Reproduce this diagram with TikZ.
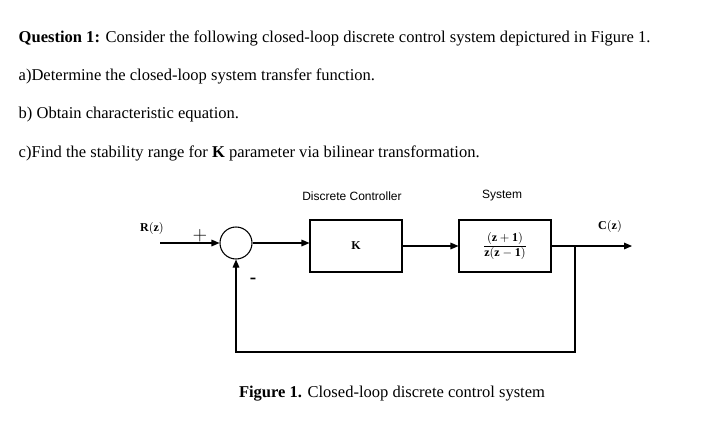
\documentclass[tikz,border=0pt]{standalone}
\usepackage{amsmath}
\usepackage{fontspec}
\setmainfont{Liberation Serif}
\newfontfamily\arialf{Liberation Sans}
\usetikzlibrary{arrows.meta}
\begin{document}
\begin{tikzpicture}[x=0.75pt,y=-0.75pt,
  blk/.style={draw,thick,minimum width=69pt,minimum height=39pt,inner sep=0pt},
  arr/.style={thick,-{Triangle[length=6pt,width=5pt]}},
  q/.style={anchor=base west,font=\fontsize{12.4}{14}\selectfont}]
\useasboundingbox (0,0) rectangle (712,447);
\node[q] (t1) at (14,42) {\textbf{Question 1:} Consider the following closed-loop discrete control system depictured in Figure 1.};
\node[q] (t2) at (14,80) {a)Determine the closed-loop system transfer function.};
\node[q] (t3) at (14,118) {b) Obtain characteristic equation.};
\node[q] (t4) at (14,157) {c)Find the stability range for \textbf{K} parameter via bilinear transformation.};
\node[font=\arialf\fontsize{9}{11}\selectfont] (l1) at (352,196) {Discrete Controller};
\node[font=\arialf\fontsize{9}{11}\selectfont] (l2) at (502,196) {System};
\node[draw,thick,circle,minimum size=24pt,inner sep=0pt] (s) at (236,243) {};
\node[blk] (k) at (356,246) {\small\bfseries K};
\node[blk] (g) at (505,246) {\small$\displaystyle\mathbf{\frac{(z+1)}{z(z-1)}}$};
\coordinate (in) at (160,243);
\coordinate (br) at (575,246);
\coordinate (out) at (632,246);
\coordinate (fb) at (575,352);
\node[font=\small] (r) at (152,228) {$\mathbf{R(z)}$};
\node[font=\small] (c) at (610,226) {$\mathbf{C(z)}$};
\node[font=\Large] (p) at (200,236) {$+$};
\node[font=\Large\bfseries] (m) at (253,281) {-};
\draw[arr] (in) -- (s.west);
\draw[arr] (s.east) -- (s.east -| k.west);
\draw[arr] (k.east) -- (g.west);
\draw[arr] (g.east) -- (out);
\draw[arr] (br) -- (fb) -| (s.south);
\node[font=\fontsize{12.4}{14}\selectfont] (cap) at (392,394) {\textbf{Figure 1.} Closed-loop discrete control system};
\end{tikzpicture}
\end{document}
